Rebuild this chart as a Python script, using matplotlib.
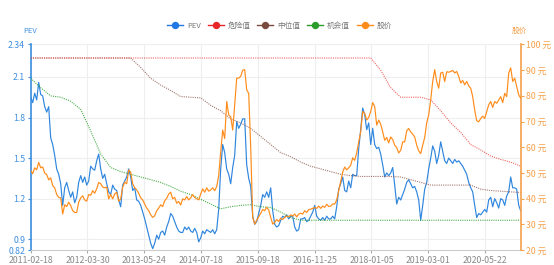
import numpy as np
import matplotlib
matplotlib.use("Agg")
import matplotlib.pyplot as plt
from matplotlib.lines import Line2D

plt.rcParams['font.family'] = ['Noto Sans CJK SC', 'DejaVu Sans']

# ---------------- data ----------------
n_weeks = 510
tick_step = 59
date_labels = ['2011-02-18', '2012-03-30', '2013-05-24', '2014-07-18', '2015-09-18',
               '2016-11-25', '2018-01-05', '2019-03-01', '2020-05-22']

pev = [1.95, 1.91, 1.98, 1.93, 2.06, 1.97, 1.96, 1.88, 1.84, 1.88,
       1.65, 1.60, 1.52, 1.42, 1.38, 1.31, 1.15, 1.28, 1.32, 1.26,
       1.21, 1.25, 1.17, 1.21, 1.32, 1.37, 1.32, 1.36, 1.30, 1.33,
       1.44, 1.42, 1.41, 1.48, 1.53, 1.42, 1.35, 1.38, 1.31, 1.25,
       1.23, 1.30, 1.27, 1.26, 1.19, 1.14, 1.30, 1.33, 1.36, 1.42,
       1.36, 1.26, 1.28, 1.19, 1.18, 1.15, 1.10, 1.05, 0.99, 0.93,
       0.87, 0.83, 0.87, 0.93, 0.90, 0.95, 0.96, 0.93, 0.99, 1.03,
       1.09, 1.07, 1.03, 0.99, 0.96, 0.95, 0.95, 0.99, 0.97, 0.99,
       0.96, 0.95, 0.98, 0.95, 0.88, 0.91, 0.96, 0.94, 0.97, 0.96,
       0.95, 0.97, 0.94, 0.97, 1.12, 1.42, 1.60, 1.54, 1.42, 1.38,
       1.31, 1.43, 1.52, 1.77, 1.72, 1.75, 1.79, 1.79, 1.45, 1.35,
       1.29, 1.07, 1.01, 1.03, 1.09, 1.15, 1.23, 1.21, 1.25, 1.21,
       1.28, 1.11, 1.01, 0.99, 1.00, 1.04, 1.07, 1.06, 1.08, 1.05,
       1.07, 1.07, 0.99, 0.96, 0.97, 1.05, 1.05, 1.06, 1.03, 1.04,
       1.07, 1.10, 1.15, 1.07, 1.05, 1.04, 1.06, 1.04, 1.07, 1.05,
       1.05, 1.07, 1.05, 1.14, 1.27, 1.31, 1.36, 1.26, 1.25, 1.33,
       1.28, 1.38, 1.37, 1.37, 1.57, 1.71, 1.87, 1.82, 1.71, 1.76,
       1.60, 1.72, 1.60, 1.57, 1.58, 1.53, 1.45, 1.36, 1.39, 1.37,
       1.39, 1.43, 1.30, 1.16, 1.21, 1.19, 1.23, 1.27, 1.32, 1.34,
       1.31, 1.28, 1.29, 1.25, 1.19, 1.04, 1.15, 1.27, 1.32, 1.42,
       1.50, 1.59, 1.55, 1.46, 1.52, 1.62, 1.55, 1.48, 1.46, 1.50,
       1.48, 1.46, 1.49, 1.47, 1.48, 1.46, 1.44, 1.41, 1.38, 1.32,
       1.28, 1.25, 1.15, 1.06, 1.09, 1.08, 1.10, 1.12, 1.10, 1.19,
       1.21, 1.14, 1.20, 1.17, 1.13, 1.20, 1.19, 1.15, 1.22, 1.25,
       1.36, 1.28, 1.28, 1.27, 1.15, 1.11]

price = [51.0, 49.7, 52.0, 51.2, 54.1, 52.0, 52.3, 49.9, 49.4, 47.3,
         48.1, 45.1, 44.2, 41.6, 40.5, 40.3, 34.0, 37.6, 36.9, 38.6,
         37.3, 35.3, 34.6, 34.6, 38.6, 40.3, 41.1, 39.5, 39.0, 41.6,
         41.3, 43.1, 42.1, 43.8, 46.3, 45.8, 44.5, 44.2, 44.5, 39.9,
         41.6, 39.9, 41.8, 42.5, 39.0, 39.9, 44.5, 46.4, 45.8, 51.2,
         50.3, 45.8, 44.2, 43.4, 42.1, 40.3, 39.5, 37.9, 36.3, 35.3,
         33.7, 32.7, 33.3, 35.3, 36.3, 37.6, 36.9, 39.2, 40.1, 41.8,
         42.5, 39.9, 40.5, 38.2, 38.9, 37.5, 39.9, 39.5, 40.8, 39.5,
         40.3, 41.6, 40.5, 39.9, 39.5, 41.8, 43.8, 42.5, 44.2, 42.9,
         43.4, 44.2, 43.1, 44.7, 49.0, 58.2, 66.7, 63.4, 77.8, 72.6,
         71.9, 66.7, 76.5, 86.9, 86.9, 87.6, 90.0, 90.2, 82.4, 81.0,
         60.0, 32.7, 30.1, 31.6, 32.9, 34.3, 35.8, 35.3, 36.6, 35.6,
         32.7, 30.1, 30.7, 31.9, 31.1, 32.4, 31.9, 32.7, 33.2, 32.9,
         33.7, 33.2, 34.0, 32.9, 34.0, 34.3, 34.0, 35.3, 34.6, 35.7,
         35.9, 36.2, 36.6, 36.2, 37.1, 36.2, 37.1, 36.6, 37.8, 36.9,
         37.1, 37.9, 37.9, 39.5, 43.1, 46.8, 50.3, 52.3, 51.2, 52.0,
         53.0, 55.9, 54.9, 57.8, 62.1, 66.0, 73.9, 73.2, 70.6, 71.6,
         73.9, 77.4, 75.8, 68.6, 70.6, 69.0, 66.0, 62.7, 63.8, 61.7,
         64.0, 63.0, 60.8, 59.9, 57.8, 58.8, 62.1, 62.1, 66.4, 67.3,
         66.0, 65.1, 64.0, 60.8, 58.6, 57.5, 60.8, 63.8, 69.5, 72.6,
         78.4, 85.6, 90.2, 85.6, 83.0, 88.9, 89.2, 85.6, 89.4, 89.2,
         89.5, 89.9, 88.9, 89.5, 87.6, 85.0, 86.0, 84.3, 85.6, 83.9,
         83.0, 79.7, 74.5, 70.3, 69.9, 71.2, 72.1, 71.2, 73.9, 76.5,
         77.8, 75.5, 77.8, 77.1, 78.4, 79.7, 77.4, 81.0, 79.7, 88.9,
         90.9, 85.6, 86.9, 83.7, 80.4, 79.1]

danger = [2.24] * 35 + [2.15, 2.02, 1.95, 1.95, 1.95, 1.93, 1.85, 1.76, 1.69,
                        1.60, 1.56, 1.515, 1.49, 1.47, 1.44]

median = [2.24] * 11 + [2.17, 2.09, 2.04, 2.00, 1.955, 1.95, 1.945, 1.89, 1.85,
                        1.79, 1.76, 1.72, 1.66, 1.60, 1.54, 1.51, 1.47, 1.44,
                        1.42, 1.40, 1.38, 1.37, 1.364, 1.364, 1.364, 1.364,
                        1.36, 1.34, 1.32, 1.30, 1.30, 1.30, 1.30, 1.30, 1.27,
                        1.26, 1.255, 1.25, 1.245]

opportunity = [2.09, 2.02, 1.96, 1.95, 1.92, 1.86, 1.70, 1.53, 1.43, 1.40,
               1.38, 1.36, 1.34, 1.32, 1.29, 1.255, 1.23, 1.195, 1.16, 1.125,
               1.14, 1.15, 1.155, 1.14, 1.135, 1.10, 1.06, 1.04] + [1.04] * 22

left_ticks = [0.82, 0.9, 1.2, 1.5, 1.8, 2.1, 2.34]
left_tick_labels = ['0.82', '0.9', '1.2', '1.5', '1.8', '2.1', '2.34']
right_ticks = [20, 30, 40, 50, 60, 70, 80, 90, 100]

# ---------------- style ----------------
c_pev = '#2f86dd'
c_danger = '#e8413c'
c_median = '#8c564b'
c_opp = '#2ca02c'
c_price = '#ff8c1a'
c_left_axis = '#3d8fe0'
c_right_axis = '#f5a04a'
grid_c = '#eeeeee'
fs = 6.3
fs_small = 5.5

fig = plt.figure(figsize=(5.54, 2.65), dpi=100)
ax = fig.add_axes([0.0554, 0.0566, 0.8845, 0.7755])
ax2 = ax.twinx()

last = n_weeks - 1
x_main = np.linspace(0, last, len(pev))
x_ref = np.linspace(0, last, len(danger))

ax.plot(x_main, pev, color=c_pev, lw=0.85, zorder=3)
ax.plot(x_ref, danger, color=c_danger, lw=0.8, ls=(0, (1, 1)), zorder=4, alpha=0.8)
ax.plot(x_ref, median, color=c_median, lw=0.8, ls=(0, (1, 1)), zorder=3, alpha=0.8)
ax.plot(x_ref, opportunity, color=c_opp, lw=0.8, ls=(0, (1, 1)), zorder=3, alpha=0.85)
ax2.plot(x_main, price, color=c_price, lw=0.85, zorder=3)

ax.set_xlim(0, last)
ax.set_ylim(0.82, 2.34)
ax2.set_ylim(20, 100)

ax.set_xticks(np.arange(len(date_labels)) * tick_step)
ax.set_xticklabels(date_labels, fontsize=fs, color='#888888')
ax.tick_params(axis='x', length=2.5, width=0.8, color='#aaaaaa', pad=1.5)

ax.set_yticks(left_ticks)
ax.set_yticklabels(left_tick_labels, fontsize=fs, color=c_left_axis)
ax.tick_params(axis='y', length=2.5, width=0.8, color=c_left_axis, pad=1.5)

ax2.set_yticks(right_ticks)
ax2.set_yticklabels([f'{v} 元' for v in right_ticks], fontsize=fs, color=c_right_axis)
ax2.tick_params(axis='y', length=2.5, width=0.8, color=c_right_axis, pad=1.5)

ax.grid(True, color=grid_c, lw=0.8)
ax.set_axisbelow(True)
ax2.grid(False)

for s in ['top', 'right']:
    ax.spines[s].set_visible(False)
ax.spines['left'].set_color(c_left_axis)
ax.spines['left'].set_linewidth(1.2)
ax.spines['bottom'].set_color('#cccccc')
ax.spines['bottom'].set_linewidth(0.8)
for s in ['top', 'left', 'bottom']:
    ax2.spines[s].set_visible(False)
ax2.spines['right'].set_color(c_right_axis)
ax2.spines['right'].set_linewidth(1.2)

fig.text(30 / 554, 1 - 31 / 265, 'PEV', color=c_left_axis, fontsize=fs_small,
         ha='center', va='center')
fig.text(519 / 554, 1 - 31 / 265, '股价', color=c_right_axis, fontsize=fs_small,
         ha='center', va='center')

names = ['PEV', '危险值', '中位值', '机会值', '股价']
cols = ['#1f78e6', '#e8262a', '#7b4a3f', '#2a9d2a', '#ff8c1a']
handles = [Line2D([0], [0], color=c, lw=1.0, marker='o', markersize=4.3,
                  markeredgecolor=c, markerfacecolor=c) for c in cols]
leg = fig.legend(handles, names, loc='center', bbox_to_anchor=(0.5045, 1 - 26 / 265),
                 ncol=5, frameon=False, fontsize=fs_small, handlelength=2.1,
                 handletextpad=0.5, columnspacing=0.9, borderpad=0, borderaxespad=0)
for t in leg.get_texts():
    t.set_color('#777777')
for h in leg.legend_handles:
    h.set_alpha(None)

fig.savefig('out.png', dpi=100)
